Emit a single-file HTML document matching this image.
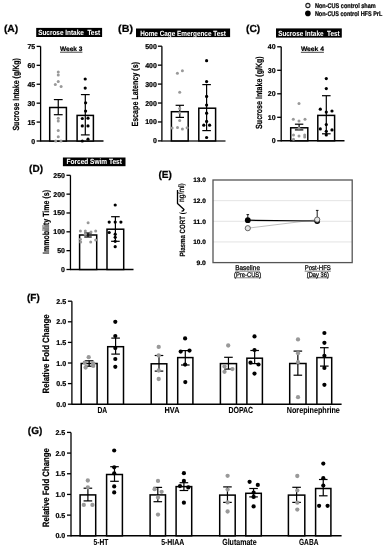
<!DOCTYPE html>
<html><head><meta charset="utf-8"><title>Figure</title>
<style>html,body{margin:0;padding:0;background:#fff;width:386px;height:550px;overflow:hidden}svg{display:block}</style>
</head><body>
<svg width="386" height="550" viewBox="0 0 386 550" text-rendering="geometricPrecision" font-family='"Liberation Sans", Arial, sans-serif'>
<rect width="386" height="550" fill="#fff"/>
<circle cx="307.9" cy="5.5" r="2.1" fill="#eee" stroke="#222" stroke-width="1.1"/>
<circle cx="307.9" cy="13.4" r="2.8" fill="#000"/>
<text x="314.9" y="8.0" font-size="6.8" font-weight="bold" text-anchor="start" fill="#000" stroke="#000" stroke-width="0.22" textLength="60.9" lengthAdjust="spacingAndGlyphs" >Non-CUS control sham</text>
<text x="314.9" y="15.8" font-size="6.8" font-weight="bold" text-anchor="start" fill="#000" stroke="#000" stroke-width="0.22" textLength="67.4" lengthAdjust="spacingAndGlyphs" >Non-CUS control HFS PrL</text>
<text x="3.9" y="31.9" font-size="10.2" font-weight="bold" text-anchor="start" fill="#000" stroke="#000" stroke-width="0.22" textLength="14.4" lengthAdjust="spacingAndGlyphs" >(A)</text>
<text x="118.1" y="31.9" font-size="10.2" font-weight="bold" text-anchor="start" fill="#000" stroke="#000" stroke-width="0.22" textLength="14.9" lengthAdjust="spacingAndGlyphs" >(B)</text>
<text x="246" y="31.9" font-size="10.2" font-weight="bold" text-anchor="start" fill="#000" stroke="#000" stroke-width="0.22" textLength="14.2" lengthAdjust="spacingAndGlyphs" >(C)</text>
<text x="29.1" y="171.8" font-size="10.2" font-weight="bold" text-anchor="start" fill="#000" stroke="#000" stroke-width="0.22" textLength="13.9" lengthAdjust="spacingAndGlyphs" >(D)</text>
<text x="158.5" y="177.8" font-size="10.2" font-weight="bold" text-anchor="start" fill="#000" stroke="#000" stroke-width="0.22" textLength="13.5" lengthAdjust="spacingAndGlyphs" >(E)</text>
<text x="27" y="300.7" font-size="10.2" font-weight="bold" text-anchor="start" fill="#000" stroke="#000" stroke-width="0.22" textLength="12.7" lengthAdjust="spacingAndGlyphs" >(F)</text>
<text x="27.8" y="434.2" font-size="10.2" font-weight="bold" text-anchor="start" fill="#000" stroke="#000" stroke-width="0.22" textLength="14.5" lengthAdjust="spacingAndGlyphs" >(G)</text>
<rect x="36.2" y="27.9" width="65.89999999999999" height="9.100000000000001" fill="#000"/>
<text x="69.15" y="35.0" font-size="7.6" font-weight="bold" text-anchor="middle" fill="#fff" stroke="#fff" stroke-width="0.05" textLength="62" lengthAdjust="spacingAndGlyphs" >Sucrose Intake&#160; Test</text>
<rect x="136" y="28.5" width="94.1" height="8.600000000000001" fill="#000"/>
<text x="183.05" y="35.5" font-size="7.6" font-weight="bold" text-anchor="middle" fill="#fff" stroke="#fff" stroke-width="0.05" textLength="85.7" lengthAdjust="spacingAndGlyphs" >Home Cage Emergence Test</text>
<rect x="276" y="28.4" width="65.80000000000001" height="9.200000000000003" fill="#000"/>
<text x="308.9" y="35.7" font-size="7.6" font-weight="bold" text-anchor="middle" fill="#fff" stroke="#fff" stroke-width="0.05" textLength="61.5" lengthAdjust="spacingAndGlyphs" >Sucrose Intake&#160; Test</text>
<rect x="62.9" y="157.5" width="62.6" height="8.699999999999989" fill="#000"/>
<text x="94.2" y="164.0" font-size="7.6" font-weight="bold" text-anchor="middle" fill="#fff" stroke="#fff" stroke-width="0.05" textLength="55.3" lengthAdjust="spacingAndGlyphs" >Forced Swim Test</text>
<line x1="40.6" y1="46.4" x2="40.6" y2="141.65" stroke="#000" stroke-width="1.3"/>
<line x1="36.6" y1="141.0" x2="40.6" y2="141.0" stroke="#000" stroke-width="1.3"/>
<text x="35.2" y="143.5" font-size="7" font-weight="bold" text-anchor="end" fill="#000" stroke="#000" stroke-width="0.22" >0</text>
<line x1="36.6" y1="122.08" x2="40.6" y2="122.08" stroke="#000" stroke-width="1.3"/>
<text x="35.2" y="124.58" font-size="7" font-weight="bold" text-anchor="end" fill="#000" stroke="#000" stroke-width="0.22" >15</text>
<line x1="36.6" y1="103.16" x2="40.6" y2="103.16" stroke="#000" stroke-width="1.3"/>
<text x="35.2" y="105.66" font-size="7" font-weight="bold" text-anchor="end" fill="#000" stroke="#000" stroke-width="0.22" >30</text>
<line x1="36.6" y1="84.24000000000001" x2="40.6" y2="84.24000000000001" stroke="#000" stroke-width="1.3"/>
<text x="35.2" y="86.74000000000001" font-size="7" font-weight="bold" text-anchor="end" fill="#000" stroke="#000" stroke-width="0.22" >45</text>
<line x1="36.6" y1="65.32000000000001" x2="40.6" y2="65.32000000000001" stroke="#000" stroke-width="1.3"/>
<text x="35.2" y="67.82000000000001" font-size="7" font-weight="bold" text-anchor="end" fill="#000" stroke="#000" stroke-width="0.22" >60</text>
<line x1="36.6" y1="46.400000000000006" x2="40.6" y2="46.400000000000006" stroke="#000" stroke-width="1.3"/>
<text x="35.2" y="48.900000000000006" font-size="7" font-weight="bold" text-anchor="end" fill="#000" stroke="#000" stroke-width="0.22" >75</text>
<line x1="40.6" y1="141.0" x2="103.5" y2="141.0" stroke="#000" stroke-width="1.4"/>
<rect x="49.7" y="107.5" width="16.700000000000003" height="33.5" fill="#fff" stroke="#000" stroke-width="1.5"/>
<rect x="77.1" y="115.4" width="16.30000000000001" height="25.599999999999994" fill="#fff" stroke="#000" stroke-width="1.5"/>
<text x="71.2" y="51.2" font-size="6.4" font-weight="bold" text-anchor="middle" fill="#000" stroke="#000" stroke-width="0.22" textLength="22.4" lengthAdjust="spacingAndGlyphs" >Week 3</text>
<line x1="60.0" y1="52.2" x2="82.4" y2="52.2" stroke="#000" stroke-width="0.75"/>
<line x1="58.25" y1="99.6" x2="58.25" y2="114.7" stroke="#000" stroke-width="1.2"/>
<line x1="53.85" y1="99.6" x2="62.65" y2="99.6" stroke="#000" stroke-width="1.2"/>
<line x1="53.85" y1="114.7" x2="62.65" y2="114.7" stroke="#000" stroke-width="1.2"/>
<circle cx="58.25" cy="72.1" r="1.5" fill="#999"/>
<circle cx="58.25" cy="75" r="1.5" fill="#999"/>
<circle cx="58.25" cy="81.4" r="1.5" fill="#999"/>
<circle cx="55.3" cy="84.5" r="1.5" fill="#999"/>
<circle cx="61.1" cy="86.4" r="1.5" fill="#999"/>
<circle cx="58.25" cy="118.2" r="1.5" fill="#999"/>
<circle cx="58.25" cy="121.1" r="1.5" fill="#999"/>
<circle cx="58.25" cy="130.4" r="1.5" fill="#999"/>
<circle cx="58.25" cy="136.8" r="1.5" fill="#999"/>
<circle cx="55.7" cy="141" r="1.5" fill="#999"/>
<circle cx="61" cy="141" r="1.5" fill="#999"/>
<circle cx="85.2" cy="79" r="1.6" fill="#000"/>
<circle cx="85.2" cy="88.1" r="1.6" fill="#000"/>
<circle cx="85.6" cy="102.8" r="1.6" fill="#000"/>
<circle cx="85.6" cy="111.1" r="1.6" fill="#000"/>
<circle cx="82.3" cy="118.5" r="1.6" fill="#000"/>
<circle cx="88" cy="118.2" r="1.6" fill="#000"/>
<circle cx="82.3" cy="125.9" r="1.6" fill="#000"/>
<circle cx="88" cy="125.9" r="1.6" fill="#000"/>
<circle cx="82.3" cy="141" r="1.6" fill="#000"/>
<circle cx="88" cy="139.2" r="1.6" fill="#000"/>
<line x1="85.3" y1="94.6" x2="85.3" y2="134.9" stroke="#000" stroke-width="1.2"/>
<line x1="80.89999999999999" y1="94.6" x2="89.7" y2="94.6" stroke="#000" stroke-width="1.2"/>
<line x1="80.89999999999999" y1="134.9" x2="89.7" y2="134.9" stroke="#000" stroke-width="1.2"/>
<text transform="translate(18.5,94.35) rotate(-90)" x="0" y="0" font-size="8.9" font-weight="bold" text-anchor="middle" stroke="#000" stroke-width="0.2" textLength="72.5" lengthAdjust="spacingAndGlyphs">Sucrose Intake (g/Kg)</text>
<line x1="161.9" y1="46.2" x2="161.9" y2="141.55" stroke="#000" stroke-width="1.3"/>
<line x1="157.9" y1="140.9" x2="161.9" y2="140.9" stroke="#000" stroke-width="1.3"/>
<text x="156.9" y="143.4" font-size="7" font-weight="bold" text-anchor="end" fill="#000" stroke="#000" stroke-width="0.22" >0</text>
<line x1="157.9" y1="121.96000000000001" x2="161.9" y2="121.96000000000001" stroke="#000" stroke-width="1.3"/>
<text x="156.9" y="124.46000000000001" font-size="7" font-weight="bold" text-anchor="end" fill="#000" stroke="#000" stroke-width="0.22" >100</text>
<line x1="157.9" y1="103.02000000000001" x2="161.9" y2="103.02000000000001" stroke="#000" stroke-width="1.3"/>
<text x="156.9" y="105.52000000000001" font-size="7" font-weight="bold" text-anchor="end" fill="#000" stroke="#000" stroke-width="0.22" >200</text>
<line x1="157.9" y1="84.08" x2="161.9" y2="84.08" stroke="#000" stroke-width="1.3"/>
<text x="156.9" y="86.58" font-size="7" font-weight="bold" text-anchor="end" fill="#000" stroke="#000" stroke-width="0.22" >300</text>
<line x1="157.9" y1="65.14" x2="161.9" y2="65.14" stroke="#000" stroke-width="1.3"/>
<text x="156.9" y="67.64" font-size="7" font-weight="bold" text-anchor="end" fill="#000" stroke="#000" stroke-width="0.22" >400</text>
<line x1="157.9" y1="46.2" x2="161.9" y2="46.2" stroke="#000" stroke-width="1.3"/>
<text x="156.9" y="48.7" font-size="7" font-weight="bold" text-anchor="end" fill="#000" stroke="#000" stroke-width="0.22" >500</text>
<line x1="161.9" y1="140.9" x2="225.5" y2="140.9" stroke="#333" stroke-width="1.5"/>
<rect x="171.4" y="111.7" width="16.799999999999983" height="29.200000000000003" fill="#fff" stroke="#000" stroke-width="1.5"/>
<rect x="198.8" y="108.2" width="16.799999999999983" height="32.7" fill="#fff" stroke="#000" stroke-width="1.5"/>
<line x1="179.8" y1="105.3" x2="179.8" y2="117.4" stroke="#000" stroke-width="1.2"/>
<line x1="175.60000000000002" y1="105.3" x2="184.0" y2="105.3" stroke="#000" stroke-width="1.2"/>
<line x1="175.60000000000002" y1="117.4" x2="184.0" y2="117.4" stroke="#000" stroke-width="1.2"/>
<circle cx="177.4" cy="73.2" r="1.5" fill="#999"/>
<circle cx="182.4" cy="70.7" r="1.5" fill="#999"/>
<circle cx="179.7" cy="92.3" r="1.5" fill="#999"/>
<circle cx="179.7" cy="108.5" r="1.5" fill="#999"/>
<circle cx="179.7" cy="112.8" r="1.5" fill="#999"/>
<circle cx="179.7" cy="120.4" r="1.5" fill="#999"/>
<circle cx="172.1" cy="128.1" r="1.5" fill="#999"/>
<circle cx="177.5" cy="127.5" r="1.5" fill="#999"/>
<circle cx="182.4" cy="128.9" r="1.5" fill="#999"/>
<circle cx="187.1" cy="127.8" r="1.5" fill="#999"/>
<circle cx="206.6" cy="60.7" r="1.6" fill="#000"/>
<circle cx="206.6" cy="81.6" r="1.6" fill="#000"/>
<circle cx="206.6" cy="96.4" r="1.6" fill="#000"/>
<circle cx="206.6" cy="105" r="1.6" fill="#000"/>
<circle cx="206.6" cy="113.2" r="1.6" fill="#000"/>
<circle cx="206.6" cy="121.4" r="1.6" fill="#000"/>
<circle cx="203.8" cy="125.2" r="1.6" fill="#000"/>
<circle cx="209.6" cy="125.2" r="1.6" fill="#000"/>
<circle cx="206.6" cy="137.5" r="1.6" fill="#000"/>
<line x1="206.6" y1="84.6" x2="206.6" y2="130.6" stroke="#000" stroke-width="1.2"/>
<line x1="202.29999999999998" y1="84.6" x2="210.9" y2="84.6" stroke="#000" stroke-width="1.2"/>
<line x1="202.29999999999998" y1="130.6" x2="210.9" y2="130.6" stroke="#000" stroke-width="1.2"/>
<text transform="translate(137.8,94.3) rotate(-90)" x="0" y="0" font-size="8.9" font-weight="bold" text-anchor="middle" stroke="#000" stroke-width="0.2" textLength="64.6" lengthAdjust="spacingAndGlyphs">Escape Latency (s)</text>
<line x1="281.2" y1="46.8" x2="281.2" y2="141.45000000000002" stroke="#000" stroke-width="1.3"/>
<line x1="277.2" y1="140.8" x2="281.2" y2="140.8" stroke="#000" stroke-width="1.3"/>
<text x="275.59999999999997" y="143.3" font-size="7" font-weight="bold" text-anchor="end" fill="#000" stroke="#000" stroke-width="0.22" >0</text>
<line x1="277.2" y1="117.30000000000001" x2="281.2" y2="117.30000000000001" stroke="#000" stroke-width="1.3"/>
<text x="275.59999999999997" y="119.80000000000001" font-size="7" font-weight="bold" text-anchor="end" fill="#000" stroke="#000" stroke-width="0.22" >10</text>
<line x1="277.2" y1="93.8" x2="281.2" y2="93.8" stroke="#000" stroke-width="1.3"/>
<text x="275.59999999999997" y="96.3" font-size="7" font-weight="bold" text-anchor="end" fill="#000" stroke="#000" stroke-width="0.22" >20</text>
<line x1="277.2" y1="70.3" x2="281.2" y2="70.3" stroke="#000" stroke-width="1.3"/>
<text x="275.59999999999997" y="72.8" font-size="7" font-weight="bold" text-anchor="end" fill="#000" stroke="#000" stroke-width="0.22" >30</text>
<line x1="277.2" y1="46.79999999999998" x2="281.2" y2="46.79999999999998" stroke="#000" stroke-width="1.3"/>
<text x="275.59999999999997" y="49.29999999999998" font-size="7" font-weight="bold" text-anchor="end" fill="#000" stroke="#000" stroke-width="0.22" >40</text>
<line x1="281.2" y1="140.8" x2="344.5" y2="140.8" stroke="#000" stroke-width="1.4"/>
<rect x="290.7" y="127.8" width="17.100000000000023" height="13.000000000000014" fill="#fff" stroke="#000" stroke-width="1.5"/>
<rect x="317.8" y="115.4" width="16.80000000000001" height="25.400000000000006" fill="#fff" stroke="#000" stroke-width="1.5"/>
<text x="312.4" y="51.4" font-size="6.4" font-weight="bold" text-anchor="middle" fill="#000" stroke="#000" stroke-width="0.22" textLength="23" lengthAdjust="spacingAndGlyphs" >Week 4</text>
<line x1="300.9" y1="52.3" x2="323.9" y2="52.3" stroke="#000" stroke-width="0.75"/>
<line x1="299.1" y1="124.2" x2="299.1" y2="129.9" stroke="#000" stroke-width="1.2"/>
<line x1="294.90000000000003" y1="124.2" x2="303.3" y2="124.2" stroke="#000" stroke-width="1.2"/>
<line x1="294.90000000000003" y1="129.9" x2="303.3" y2="129.9" stroke="#000" stroke-width="1.2"/>
<circle cx="299" cy="103.5" r="1.5" fill="#999"/>
<circle cx="293.3" cy="119.2" r="1.5" fill="#999"/>
<circle cx="299" cy="121.1" r="1.5" fill="#999"/>
<circle cx="305" cy="119.2" r="1.5" fill="#999"/>
<circle cx="299" cy="128.2" r="1.5" fill="#999"/>
<circle cx="293.5" cy="134.9" r="1.5" fill="#999"/>
<circle cx="299" cy="136" r="1.5" fill="#999"/>
<circle cx="304.7" cy="134.9" r="1.5" fill="#999"/>
<circle cx="304.7" cy="137" r="1.5" fill="#999"/>
<circle cx="293.5" cy="139.2" r="1.5" fill="#999"/>
<circle cx="326.3" cy="78.6" r="1.6" fill="#000"/>
<circle cx="326.3" cy="88.6" r="1.6" fill="#000"/>
<circle cx="320.3" cy="109.2" r="1.6" fill="#000"/>
<circle cx="326.3" cy="112.1" r="1.6" fill="#000"/>
<circle cx="332" cy="111" r="1.6" fill="#000"/>
<circle cx="326.3" cy="124.6" r="1.6" fill="#000"/>
<circle cx="320.3" cy="128.9" r="1.6" fill="#000"/>
<circle cx="326.3" cy="131.3" r="1.6" fill="#000"/>
<circle cx="332" cy="129.9" r="1.6" fill="#000"/>
<circle cx="326.3" cy="134.9" r="1.6" fill="#000"/>
<line x1="326.3" y1="95.7" x2="326.3" y2="133.8" stroke="#000" stroke-width="1.2"/>
<line x1="322.0" y1="95.7" x2="330.6" y2="95.7" stroke="#000" stroke-width="1.2"/>
<line x1="322.0" y1="133.8" x2="330.6" y2="133.8" stroke="#000" stroke-width="1.2"/>
<text transform="translate(262.3,92.6) rotate(-90)" x="0" y="0" font-size="8.9" font-weight="bold" text-anchor="middle" stroke="#000" stroke-width="0.2" textLength="72.6" lengthAdjust="spacingAndGlyphs">Sucrose Intake (g/Kg)</text>
<line x1="70.45" y1="175.3" x2="70.45" y2="270.15" stroke="#000" stroke-width="1.3"/>
<line x1="66.45" y1="269.5" x2="70.45" y2="269.5" stroke="#000" stroke-width="1.3"/>
<text x="64.95" y="272.0" font-size="7" font-weight="bold" text-anchor="end" fill="#000" stroke="#000" stroke-width="0.22" >0</text>
<line x1="66.45" y1="250.66" x2="70.45" y2="250.66" stroke="#000" stroke-width="1.3"/>
<text x="64.95" y="253.16" font-size="7" font-weight="bold" text-anchor="end" fill="#000" stroke="#000" stroke-width="0.22" >50</text>
<line x1="66.45" y1="231.82" x2="70.45" y2="231.82" stroke="#000" stroke-width="1.3"/>
<text x="64.95" y="234.32" font-size="7" font-weight="bold" text-anchor="end" fill="#000" stroke="#000" stroke-width="0.22" >100</text>
<line x1="66.45" y1="212.98000000000002" x2="70.45" y2="212.98000000000002" stroke="#000" stroke-width="1.3"/>
<text x="64.95" y="215.48000000000002" font-size="7" font-weight="bold" text-anchor="end" fill="#000" stroke="#000" stroke-width="0.22" >150</text>
<line x1="66.45" y1="194.14" x2="70.45" y2="194.14" stroke="#000" stroke-width="1.3"/>
<text x="64.95" y="196.64" font-size="7" font-weight="bold" text-anchor="end" fill="#000" stroke="#000" stroke-width="0.22" >200</text>
<line x1="66.45" y1="175.3" x2="70.45" y2="175.3" stroke="#000" stroke-width="1.3"/>
<text x="64.95" y="177.8" font-size="7" font-weight="bold" text-anchor="end" fill="#000" stroke="#000" stroke-width="0.22" >250</text>
<line x1="70.45" y1="269.5" x2="133.5" y2="269.5" stroke="#000" stroke-width="1.4"/>
<rect x="79.6" y="235.0" width="17.10000000000001" height="34.5" fill="#fff" stroke="#000" stroke-width="1.5"/>
<rect x="107.0" y="229.2" width="16.700000000000003" height="40.30000000000001" fill="#fff" stroke="#000" stroke-width="1.5"/>
<line x1="88.0" y1="233.0" x2="88.0" y2="237.0" stroke="#000" stroke-width="1.2"/>
<line x1="84.25" y1="233.0" x2="91.75" y2="233.0" stroke="#000" stroke-width="1.2"/>
<line x1="84.25" y1="237.0" x2="91.75" y2="237.0" stroke="#000" stroke-width="1.2"/>
<circle cx="88.1" cy="222.8" r="1.5" fill="#999"/>
<circle cx="80.4" cy="231.1" r="1.5" fill="#999"/>
<circle cx="85.3" cy="231.1" r="1.5" fill="#999"/>
<circle cx="91" cy="232.1" r="1.5" fill="#999"/>
<circle cx="95.7" cy="231.1" r="1.5" fill="#999"/>
<circle cx="85.3" cy="234.2" r="1.5" fill="#999"/>
<circle cx="80.4" cy="239.2" r="1.5" fill="#999"/>
<circle cx="80.7" cy="242" r="1.5" fill="#999"/>
<circle cx="90.7" cy="242" r="1.5" fill="#999"/>
<circle cx="95.7" cy="239.9" r="1.5" fill="#999"/>
<circle cx="115.2" cy="205" r="1.6" fill="#000"/>
<circle cx="109.2" cy="222.1" r="1.6" fill="#000"/>
<circle cx="115.2" cy="222.1" r="1.6" fill="#000"/>
<circle cx="120.9" cy="222.1" r="1.6" fill="#000"/>
<circle cx="109.2" cy="232.5" r="1.6" fill="#000"/>
<circle cx="115.2" cy="234.2" r="1.6" fill="#000"/>
<circle cx="115.2" cy="237.3" r="1.6" fill="#000"/>
<circle cx="115.2" cy="241.3" r="1.6" fill="#000"/>
<circle cx="115.2" cy="246.7" r="1.6" fill="#000"/>
<line x1="115.4" y1="216.7" x2="115.4" y2="241.3" stroke="#000" stroke-width="1.2"/>
<line x1="111.10000000000001" y1="216.7" x2="119.7" y2="216.7" stroke="#000" stroke-width="1.2"/>
<line x1="111.10000000000001" y1="241.3" x2="119.7" y2="241.3" stroke="#000" stroke-width="1.2"/>
<text transform="translate(48.7,222) rotate(-90)" x="0" y="0" font-size="8.9" font-weight="bold" text-anchor="middle" stroke="#000" stroke-width="0.2" textLength="64" lengthAdjust="spacingAndGlyphs">Immobility Time (s)</text>
<line x1="213.0" y1="241.95000000000002" x2="352.2" y2="241.95000000000002" stroke="#d8d8d8" stroke-width="0.7"/>
<line x1="213.0" y1="221.3" x2="352.2" y2="221.3" stroke="#d8d8d8" stroke-width="0.7"/>
<line x1="213.0" y1="200.65" x2="352.2" y2="200.65" stroke="#d8d8d8" stroke-width="0.7"/>
<rect x="213.0" y="180.0" width="139.2" height="82.60000000000002" fill="none" stroke="#555" stroke-width="1.3"/>
<text x="205.9" y="264.8" font-size="6.3" font-weight="bold" text-anchor="end" fill="#000" stroke="#000" stroke-width="0.22" textLength="9.5" lengthAdjust="spacingAndGlyphs" >9.0</text>
<text x="205.9" y="244.15" font-size="6.3" font-weight="bold" text-anchor="end" fill="#000" stroke="#000" stroke-width="0.22" textLength="12.7" lengthAdjust="spacingAndGlyphs" >10.0</text>
<text x="205.9" y="223.5" font-size="6.3" font-weight="bold" text-anchor="end" fill="#000" stroke="#000" stroke-width="0.22" textLength="12.7" lengthAdjust="spacingAndGlyphs" >11.0</text>
<text x="205.9" y="202.85" font-size="6.3" font-weight="bold" text-anchor="end" fill="#000" stroke="#000" stroke-width="0.22" textLength="12.7" lengthAdjust="spacingAndGlyphs" >12.0</text>
<text x="205.9" y="182.2" font-size="6.3" font-weight="bold" text-anchor="end" fill="#000" stroke="#000" stroke-width="0.22" textLength="12.7" lengthAdjust="spacingAndGlyphs" >13.0</text>
<line x1="247.8" y1="228.2" x2="317.2" y2="219.6" stroke="#b8b8b8" stroke-width="0.9"/>
<line x1="247.8" y1="220.2" x2="317.2" y2="221.0" stroke="#000" stroke-width="1.25"/>
<line x1="247.8" y1="214.6" x2="247.8" y2="220.2" stroke="#000" stroke-width="0.9"/>
<line x1="246.5" y1="214.6" x2="249.10000000000002" y2="214.6" stroke="#000" stroke-width="0.9"/>
<line x1="317.2" y1="210.4" x2="317.2" y2="219.6" stroke="#000" stroke-width="0.9"/>
<line x1="315.9" y1="210.4" x2="318.5" y2="210.4" stroke="#000" stroke-width="0.9"/>
<circle cx="247.8" cy="220.2" r="2.9" fill="#000"/>
<circle cx="247.8" cy="228.2" r="2.6" fill="#e6e6e6" stroke="#555" stroke-width="0.9"/>
<circle cx="317.2" cy="221.0" r="2.9" fill="#000"/>
<circle cx="317.2" cy="219.6" r="2.6" fill="#e6e6e6" stroke="#555" stroke-width="0.9"/>
<text x="247.6" y="270.4" font-size="6.8" font-weight="normal" text-anchor="middle" fill="#000" textLength="24.8" lengthAdjust="spacingAndGlyphs" stroke="#000" stroke-width="0.25">Baseline</text>
<line x1="235.2" y1="271.2" x2="260.0" y2="271.2" stroke="#000" stroke-width="0.5"/>
<text x="247.6" y="277.0" font-size="6.8" font-weight="normal" text-anchor="middle" fill="#000" textLength="27.2" lengthAdjust="spacingAndGlyphs" stroke="#000" stroke-width="0.25">(Pre-CUS)</text>
<line x1="234.0" y1="277.8" x2="261.2" y2="277.8" stroke="#000" stroke-width="0.5"/>
<text x="317.8" y="270.4" font-size="6.8" font-weight="normal" text-anchor="middle" fill="#000" textLength="26.2" lengthAdjust="spacingAndGlyphs" stroke="#000" stroke-width="0.25">Post-HFS</text>
<line x1="304.7" y1="271.2" x2="330.90000000000003" y2="271.2" stroke="#000" stroke-width="0.5"/>
<text x="317.8" y="277.0" font-size="6.8" font-weight="normal" text-anchor="middle" fill="#000" textLength="22.1" lengthAdjust="spacingAndGlyphs" stroke="#000" stroke-width="0.25">(Day 36)</text>
<line x1="306.75" y1="277.8" x2="328.85" y2="277.8" stroke="#000" stroke-width="0.5"/>
<g transform="translate(184.5,256.6) rotate(-90)">
<text x="0" y="0" font-size="7.6" font-weight="bold" stroke="#000" stroke-width="0.15" textLength="44.3" lengthAdjust="spacingAndGlyphs">Plasma CORT (</text>
<path d="M45.60,-2.90 Q45.20,-0.90 47.20,-0.50 L53.20,-7.00 L66.70,-7.00" fill="none" stroke="#000" stroke-width="1.3" stroke-linejoin="round"/>
<text x="54.70" y="-0.1" font-size="8" font-weight="normal" stroke="#000" stroke-width="0.25" textLength="18.6" lengthAdjust="spacingAndGlyphs">ng/ml)</text>
</g>
<line x1="71.9" y1="301.2" x2="71.9" y2="404.84999999999997" stroke="#000" stroke-width="1.3"/>
<line x1="67.9" y1="404.2" x2="71.9" y2="404.2" stroke="#000" stroke-width="1.3"/>
<text x="66.2" y="406.7" font-size="7" font-weight="bold" text-anchor="end" fill="#000" stroke="#000" stroke-width="0.22" textLength="9.9" lengthAdjust="spacingAndGlyphs" >0.0</text>
<line x1="67.9" y1="383.59999999999997" x2="71.9" y2="383.59999999999997" stroke="#000" stroke-width="1.3"/>
<text x="66.2" y="386.09999999999997" font-size="7" font-weight="bold" text-anchor="end" fill="#000" stroke="#000" stroke-width="0.22" textLength="9.9" lengthAdjust="spacingAndGlyphs" >0.5</text>
<line x1="67.9" y1="363.0" x2="71.9" y2="363.0" stroke="#000" stroke-width="1.3"/>
<text x="66.2" y="365.5" font-size="7" font-weight="bold" text-anchor="end" fill="#000" stroke="#000" stroke-width="0.22" textLength="9.9" lengthAdjust="spacingAndGlyphs" >1.0</text>
<line x1="67.9" y1="342.4" x2="71.9" y2="342.4" stroke="#000" stroke-width="1.3"/>
<text x="66.2" y="344.9" font-size="7" font-weight="bold" text-anchor="end" fill="#000" stroke="#000" stroke-width="0.22" textLength="9.9" lengthAdjust="spacingAndGlyphs" >1.5</text>
<line x1="67.9" y1="321.79999999999995" x2="71.9" y2="321.79999999999995" stroke="#000" stroke-width="1.3"/>
<text x="66.2" y="324.29999999999995" font-size="7" font-weight="bold" text-anchor="end" fill="#000" stroke="#000" stroke-width="0.22" textLength="9.9" lengthAdjust="spacingAndGlyphs" >2.0</text>
<line x1="67.9" y1="301.2" x2="71.9" y2="301.2" stroke="#000" stroke-width="1.3"/>
<text x="66.2" y="303.7" font-size="7" font-weight="bold" text-anchor="end" fill="#000" stroke="#000" stroke-width="0.22" textLength="9.9" lengthAdjust="spacingAndGlyphs" >2.5</text>
<line x1="71.9" y1="404.2" x2="341.6" y2="404.2" stroke="#000" stroke-width="1.4"/>
<rect x="81.2" y="363.5" width="15.899999999999991" height="40.69999999999999" fill="#fff" stroke="#000" stroke-width="1.5"/>
<rect x="107.7" y="346.7" width="15.799999999999997" height="57.5" fill="#fff" stroke="#000" stroke-width="1.5"/>
<line x1="89.15" y1="360.8" x2="89.15" y2="366.2" stroke="#000" stroke-width="1.2"/>
<line x1="84.85000000000001" y1="360.8" x2="93.45" y2="360.8" stroke="#000" stroke-width="1.2"/>
<line x1="84.85000000000001" y1="366.2" x2="93.45" y2="366.2" stroke="#000" stroke-width="1.2"/>
<circle cx="88.7" cy="357.2" r="2.15" fill="#999"/>
<circle cx="84.7" cy="362.6" r="2.15" fill="#999"/>
<circle cx="93.2" cy="363.5" r="2.15" fill="#999"/>
<circle cx="85.6" cy="367.5" r="2.15" fill="#999"/>
<circle cx="93.2" cy="365.9" r="2.15" fill="#999"/>
<circle cx="115.3" cy="321.8" r="2.1" fill="#000"/>
<circle cx="115.3" cy="336" r="2.1" fill="#000"/>
<circle cx="115.3" cy="348.1" r="2.1" fill="#000"/>
<circle cx="115.3" cy="359" r="2.1" fill="#000"/>
<circle cx="115.3" cy="366.8" r="2.1" fill="#000"/>
<line x1="115.6" y1="338.1" x2="115.6" y2="354.1" stroke="#000" stroke-width="1.2"/>
<line x1="111.3" y1="338.1" x2="119.89999999999999" y2="338.1" stroke="#000" stroke-width="1.2"/>
<line x1="111.3" y1="354.1" x2="119.89999999999999" y2="354.1" stroke="#000" stroke-width="1.2"/>
<text x="102.3" y="412.59999999999997" font-size="8.8" font-weight="bold" text-anchor="middle" fill="#000" stroke="#000" stroke-width="0.08" textLength="9.8" lengthAdjust="spacingAndGlyphs" >DA</text>
<rect x="151.2" y="363.8" width="15.600000000000023" height="40.39999999999998" fill="#fff" stroke="#000" stroke-width="1.5"/>
<rect x="177.7" y="357.6" width="15.200000000000017" height="46.599999999999966" fill="#fff" stroke="#000" stroke-width="1.5"/>
<line x1="159.0" y1="355.5" x2="159.0" y2="371.1" stroke="#000" stroke-width="1.2"/>
<line x1="154.7" y1="355.5" x2="163.3" y2="355.5" stroke="#000" stroke-width="1.2"/>
<line x1="154.7" y1="371.1" x2="163.3" y2="371.1" stroke="#000" stroke-width="1.2"/>
<circle cx="158.7" cy="346.9" r="2.15" fill="#999"/>
<circle cx="158.7" cy="355.5" r="2.15" fill="#999"/>
<circle cx="158.7" cy="370.5" r="2.15" fill="#999"/>
<circle cx="158.7" cy="379" r="2.15" fill="#999"/>
<circle cx="185.1" cy="338.4" r="2.1" fill="#000"/>
<circle cx="180.7" cy="351.6" r="2.1" fill="#000"/>
<circle cx="189.5" cy="350.6" r="2.1" fill="#000"/>
<circle cx="185.1" cy="364.6" r="2.1" fill="#000"/>
<circle cx="185.3" cy="382.1" r="2.1" fill="#000"/>
<line x1="185.3" y1="350.6" x2="185.3" y2="365.0" stroke="#000" stroke-width="1.2"/>
<line x1="181.0" y1="350.6" x2="189.60000000000002" y2="350.6" stroke="#000" stroke-width="1.2"/>
<line x1="181.0" y1="365.0" x2="189.60000000000002" y2="365.0" stroke="#000" stroke-width="1.2"/>
<text x="172.0" y="412.59999999999997" font-size="8.8" font-weight="bold" text-anchor="middle" fill="#000" stroke="#000" stroke-width="0.08" textLength="15.0" lengthAdjust="spacingAndGlyphs" >HVA</text>
<rect x="220.4" y="363.6" width="16.099999999999994" height="40.599999999999966" fill="#fff" stroke="#000" stroke-width="1.5"/>
<rect x="246.9" y="358.2" width="15.499999999999972" height="46.0" fill="#fff" stroke="#000" stroke-width="1.5"/>
<line x1="228.45" y1="357.3" x2="228.45" y2="369.1" stroke="#000" stroke-width="1.2"/>
<line x1="224.14999999999998" y1="357.3" x2="232.75" y2="357.3" stroke="#000" stroke-width="1.2"/>
<line x1="224.14999999999998" y1="369.1" x2="232.75" y2="369.1" stroke="#000" stroke-width="1.2"/>
<circle cx="228.2" cy="345.5" r="2.15" fill="#999"/>
<circle cx="224.5" cy="366.4" r="2.15" fill="#999"/>
<circle cx="232.4" cy="369.1" r="2.15" fill="#999"/>
<circle cx="224.5" cy="371.8" r="2.15" fill="#999"/>
<circle cx="254.5" cy="336.4" r="2.1" fill="#000"/>
<circle cx="254.5" cy="350" r="2.1" fill="#000"/>
<circle cx="250.5" cy="362.7" r="2.1" fill="#000"/>
<circle cx="258.5" cy="364.5" r="2.1" fill="#000"/>
<circle cx="254.5" cy="373.6" r="2.1" fill="#000"/>
<line x1="254.64999999999998" y1="350.5" x2="254.64999999999998" y2="363.6" stroke="#000" stroke-width="1.2"/>
<line x1="250.34999999999997" y1="350.5" x2="258.95" y2="350.5" stroke="#000" stroke-width="1.2"/>
<line x1="250.34999999999997" y1="363.6" x2="258.95" y2="363.6" stroke="#000" stroke-width="1.2"/>
<text x="240.8" y="412.59999999999997" font-size="8.8" font-weight="bold" text-anchor="middle" fill="#000" stroke="#000" stroke-width="0.08" textLength="24.7" lengthAdjust="spacingAndGlyphs" >DOPAC</text>
<rect x="289.7" y="363.5" width="16.30000000000001" height="40.69999999999999" fill="#fff" stroke="#000" stroke-width="1.5"/>
<rect x="316.9" y="357.6" width="14.800000000000011" height="46.599999999999966" fill="#fff" stroke="#000" stroke-width="1.5"/>
<line x1="297.85" y1="351.1" x2="297.85" y2="375.2" stroke="#000" stroke-width="1.2"/>
<line x1="293.55" y1="351.1" x2="302.15000000000003" y2="351.1" stroke="#000" stroke-width="1.2"/>
<line x1="293.55" y1="375.2" x2="302.15000000000003" y2="375.2" stroke="#000" stroke-width="1.2"/>
<circle cx="298" cy="339.4" r="2.15" fill="#999"/>
<circle cx="298" cy="353.2" r="2.15" fill="#999"/>
<circle cx="298" cy="362.2" r="2.15" fill="#999"/>
<circle cx="298" cy="397.2" r="2.15" fill="#999"/>
<circle cx="324.4" cy="333" r="2.1" fill="#000"/>
<circle cx="324.4" cy="342.8" r="2.1" fill="#000"/>
<circle cx="324.4" cy="355.8" r="2.1" fill="#000"/>
<circle cx="324.4" cy="367.9" r="2.1" fill="#000"/>
<circle cx="324.4" cy="384.8" r="2.1" fill="#000"/>
<line x1="324.29999999999995" y1="347.7" x2="324.29999999999995" y2="366.1" stroke="#000" stroke-width="1.2"/>
<line x1="319.99999999999994" y1="347.7" x2="328.59999999999997" y2="347.7" stroke="#000" stroke-width="1.2"/>
<line x1="319.99999999999994" y1="366.1" x2="328.59999999999997" y2="366.1" stroke="#000" stroke-width="1.2"/>
<text x="313.3" y="412.59999999999997" font-size="8.8" font-weight="bold" text-anchor="middle" fill="#000" stroke="#000" stroke-width="0.08" textLength="53.0" lengthAdjust="spacingAndGlyphs" >Norepinephrine</text>
<text transform="translate(48.5,353.9) rotate(-90)" x="0" y="0" font-size="9.2" font-weight="bold" text-anchor="middle" stroke="#000" stroke-width="0.2" textLength="79" lengthAdjust="spacingAndGlyphs">Relative Fold Change</text>
<line x1="71.0" y1="432.4" x2="71.0" y2="536.4499999999999" stroke="#000" stroke-width="1.3"/>
<line x1="67.0" y1="535.8" x2="71.0" y2="535.8" stroke="#000" stroke-width="1.3"/>
<text x="65.3" y="538.3" font-size="7" font-weight="bold" text-anchor="end" fill="#000" stroke="#000" stroke-width="0.22" textLength="9.9" lengthAdjust="spacingAndGlyphs" >0.0</text>
<line x1="67.0" y1="515.12" x2="71.0" y2="515.12" stroke="#000" stroke-width="1.3"/>
<text x="65.3" y="517.62" font-size="7" font-weight="bold" text-anchor="end" fill="#000" stroke="#000" stroke-width="0.22" textLength="9.9" lengthAdjust="spacingAndGlyphs" >0.5</text>
<line x1="67.0" y1="494.43999999999994" x2="71.0" y2="494.43999999999994" stroke="#000" stroke-width="1.3"/>
<text x="65.3" y="496.93999999999994" font-size="7" font-weight="bold" text-anchor="end" fill="#000" stroke="#000" stroke-width="0.22" textLength="9.9" lengthAdjust="spacingAndGlyphs" >1.0</text>
<line x1="67.0" y1="473.76" x2="71.0" y2="473.76" stroke="#000" stroke-width="1.3"/>
<text x="65.3" y="476.26" font-size="7" font-weight="bold" text-anchor="end" fill="#000" stroke="#000" stroke-width="0.22" textLength="9.9" lengthAdjust="spacingAndGlyphs" >1.5</text>
<line x1="67.0" y1="453.08" x2="71.0" y2="453.08" stroke="#000" stroke-width="1.3"/>
<text x="65.3" y="455.58" font-size="7" font-weight="bold" text-anchor="end" fill="#000" stroke="#000" stroke-width="0.22" textLength="9.9" lengthAdjust="spacingAndGlyphs" >2.0</text>
<line x1="67.0" y1="432.4" x2="71.0" y2="432.4" stroke="#000" stroke-width="1.3"/>
<text x="65.3" y="434.9" font-size="7" font-weight="bold" text-anchor="end" fill="#000" stroke="#000" stroke-width="0.22" textLength="9.9" lengthAdjust="spacingAndGlyphs" >2.5</text>
<line x1="71.0" y1="535.8" x2="341.6" y2="535.8" stroke="#000" stroke-width="1.4"/>
<rect x="80.1" y="494.9" width="15.600000000000009" height="40.89999999999998" fill="#fff" stroke="#000" stroke-width="1.5"/>
<rect x="106.6" y="474.5" width="15.800000000000011" height="61.299999999999955" fill="#fff" stroke="#000" stroke-width="1.5"/>
<line x1="87.9" y1="488.2" x2="87.9" y2="500.9" stroke="#000" stroke-width="1.2"/>
<line x1="83.60000000000001" y1="488.2" x2="92.2" y2="488.2" stroke="#000" stroke-width="1.2"/>
<line x1="83.60000000000001" y1="500.9" x2="92.2" y2="500.9" stroke="#000" stroke-width="1.2"/>
<circle cx="87.8" cy="480.5" r="2.15" fill="#999"/>
<circle cx="87.8" cy="487.3" r="2.15" fill="#999"/>
<circle cx="83.8" cy="504.9" r="2.15" fill="#999"/>
<circle cx="92.4" cy="504.9" r="2.15" fill="#999"/>
<circle cx="114.2" cy="450.5" r="2.1" fill="#000"/>
<circle cx="114.2" cy="467.3" r="2.1" fill="#000"/>
<circle cx="114.2" cy="473.3" r="2.1" fill="#000"/>
<circle cx="114.2" cy="486.4" r="2.1" fill="#000"/>
<circle cx="114.2" cy="492.4" r="2.1" fill="#000"/>
<line x1="114.5" y1="466.7" x2="114.5" y2="481.3" stroke="#000" stroke-width="1.2"/>
<line x1="110.2" y1="466.7" x2="118.8" y2="466.7" stroke="#000" stroke-width="1.2"/>
<line x1="110.2" y1="481.3" x2="118.8" y2="481.3" stroke="#000" stroke-width="1.2"/>
<text x="101.0" y="545.4" font-size="8.8" font-weight="bold" text-anchor="middle" fill="#000" stroke="#000" stroke-width="0.08" textLength="14.8" lengthAdjust="spacingAndGlyphs" >5-HT</text>
<rect x="150.1" y="494.9" width="15.400000000000006" height="40.89999999999998" fill="#fff" stroke="#000" stroke-width="1.5"/>
<rect x="176.1" y="486.6" width="15.599999999999994" height="49.19999999999993" fill="#fff" stroke="#000" stroke-width="1.5"/>
<line x1="157.8" y1="487.4" x2="157.8" y2="501.7" stroke="#000" stroke-width="1.2"/>
<line x1="153.5" y1="487.4" x2="162.10000000000002" y2="487.4" stroke="#000" stroke-width="1.2"/>
<line x1="153.5" y1="501.7" x2="162.10000000000002" y2="501.7" stroke="#000" stroke-width="1.2"/>
<circle cx="158" cy="480.9" r="2.15" fill="#999"/>
<circle cx="154.6" cy="489.2" r="2.15" fill="#999"/>
<circle cx="161.6" cy="491.8" r="2.15" fill="#999"/>
<circle cx="158" cy="497.5" r="2.15" fill="#999"/>
<circle cx="158" cy="514.6" r="2.15" fill="#999"/>
<circle cx="183.9" cy="473.2" r="2.1" fill="#000"/>
<circle cx="183.9" cy="480.9" r="2.1" fill="#000"/>
<circle cx="180" cy="486.1" r="2.1" fill="#000"/>
<circle cx="188.3" cy="487.4" r="2.1" fill="#000"/>
<circle cx="183.9" cy="502.7" r="2.1" fill="#000"/>
<line x1="183.89999999999998" y1="482.7" x2="183.89999999999998" y2="490.5" stroke="#000" stroke-width="1.2"/>
<line x1="179.59999999999997" y1="482.7" x2="188.2" y2="482.7" stroke="#000" stroke-width="1.2"/>
<line x1="179.59999999999997" y1="490.5" x2="188.2" y2="490.5" stroke="#000" stroke-width="1.2"/>
<text x="172.7" y="545.4" font-size="8.8" font-weight="bold" text-anchor="middle" fill="#000" stroke="#000" stroke-width="0.08" textLength="23.0" lengthAdjust="spacingAndGlyphs" >5-HIAA</text>
<rect x="219.7" y="495.1" width="15.5" height="40.69999999999993" fill="#fff" stroke="#000" stroke-width="1.5"/>
<rect x="245.8" y="493.3" width="15.5" height="42.49999999999994" fill="#fff" stroke="#000" stroke-width="1.5"/>
<line x1="227.45" y1="486.9" x2="227.45" y2="502.4" stroke="#000" stroke-width="1.2"/>
<line x1="223.14999999999998" y1="486.9" x2="231.75" y2="486.9" stroke="#000" stroke-width="1.2"/>
<line x1="223.14999999999998" y1="502.4" x2="231.75" y2="502.4" stroke="#000" stroke-width="1.2"/>
<circle cx="227.6" cy="475.8" r="2.15" fill="#999"/>
<circle cx="227.6" cy="489.6" r="2.15" fill="#999"/>
<circle cx="227.6" cy="502.4" r="2.15" fill="#999"/>
<circle cx="227.6" cy="511.5" r="2.15" fill="#999"/>
<circle cx="249.6" cy="481.8" r="2.1" fill="#000"/>
<circle cx="257.8" cy="484.9" r="2.1" fill="#000"/>
<circle cx="253.6" cy="492.7" r="2.1" fill="#000"/>
<circle cx="253.6" cy="496.9" r="2.1" fill="#000"/>
<circle cx="253.6" cy="506.4" r="2.1" fill="#000"/>
<line x1="253.55" y1="488.5" x2="253.55" y2="496.9" stroke="#000" stroke-width="1.2"/>
<line x1="249.25" y1="488.5" x2="257.85" y2="488.5" stroke="#000" stroke-width="1.2"/>
<line x1="249.25" y1="496.9" x2="257.85" y2="496.9" stroke="#000" stroke-width="1.2"/>
<text x="239.4" y="545.4" font-size="8.8" font-weight="bold" text-anchor="middle" fill="#000" stroke="#000" stroke-width="0.08" textLength="34.4" lengthAdjust="spacingAndGlyphs" >Glutamate</text>
<rect x="288.4" y="495.1" width="16.400000000000034" height="40.69999999999993" fill="#fff" stroke="#000" stroke-width="1.5"/>
<rect x="315.6" y="488.5" width="15.299999999999955" height="47.299999999999955" fill="#fff" stroke="#000" stroke-width="1.5"/>
<line x1="296.6" y1="487.3" x2="296.6" y2="502.4" stroke="#000" stroke-width="1.2"/>
<line x1="292.3" y1="487.3" x2="300.90000000000003" y2="487.3" stroke="#000" stroke-width="1.2"/>
<line x1="292.3" y1="502.4" x2="300.90000000000003" y2="502.4" stroke="#000" stroke-width="1.2"/>
<circle cx="297.3" cy="476" r="2.15" fill="#999"/>
<circle cx="297.3" cy="490.4" r="2.15" fill="#999"/>
<circle cx="297.3" cy="502.7" r="2.15" fill="#999"/>
<circle cx="297.3" cy="509.6" r="2.15" fill="#999"/>
<circle cx="323.3" cy="463.6" r="2.1" fill="#000"/>
<circle cx="323.3" cy="478.2" r="2.1" fill="#000"/>
<circle cx="323.3" cy="485.5" r="2.1" fill="#000"/>
<circle cx="319.1" cy="505.8" r="2.1" fill="#000"/>
<circle cx="327.6" cy="505.8" r="2.1" fill="#000"/>
<line x1="323.25" y1="479.5" x2="323.25" y2="495.8" stroke="#000" stroke-width="1.2"/>
<line x1="318.95" y1="479.5" x2="327.55" y2="479.5" stroke="#000" stroke-width="1.2"/>
<line x1="318.95" y1="495.8" x2="327.55" y2="495.8" stroke="#000" stroke-width="1.2"/>
<text x="308.7" y="545.4" font-size="8.8" font-weight="bold" text-anchor="middle" fill="#000" stroke="#000" stroke-width="0.08" textLength="19.4" lengthAdjust="spacingAndGlyphs" >GABA</text>
<text transform="translate(48.5,487.7) rotate(-90)" x="0" y="0" font-size="9.2" font-weight="bold" text-anchor="middle" stroke="#000" stroke-width="0.2" textLength="79" lengthAdjust="spacingAndGlyphs">Relative Fold Change</text>
</svg>
</body></html>
